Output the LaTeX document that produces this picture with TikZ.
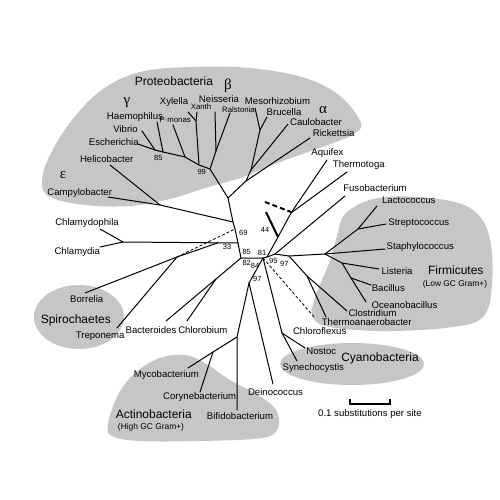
\documentclass[tikz,border=0pt]{standalone}
\usepackage{fontspec}
\setmainfont{Liberation Sans}
\newfontfamily\grk{Liberation Serif}
\definecolor{blobgray}{RGB}{198,198,198}
\begin{document}
\begin{tikzpicture}[x=1pt,y=-1pt,
  br/.style={line width=1pt, line cap=round},
  thk/.style={line width=2pt},
  dsh/.style={line width=0.8pt, dash pattern=on 3pt off 2pt},
  dshthk/.style={line width=2pt, dash pattern=on 5pt off 3pt},
  sp/.style={inner sep=0pt, font=\fontsize{9.6}{11}\selectfont},
  sm/.style={inner sep=0pt, font=\fontsize{7.8}{9}\selectfont},
  bs/.style={inner sep=0pt, font=\fontsize{7.5}{9}\selectfont},
  grp/.style={inner sep=0pt, font=\fontsize{12}{14}\selectfont},
  sublbl/.style={inner sep=0pt, font=\fontsize{8.4}{10}\selectfont},
  gk/.style={inner sep=0pt, font=\grk\fontsize{15}{17}\selectfont}]
\useasboundingbox (0,0) rectangle (500,500);
\fill[white] (0,0) rectangle (500,500);

% ---- shaded groups ----
\fill[blobgray] plot[smooth cycle, tension=0.6] coordinates {(42,182) (50,155) (72,120) (103,89) (140,72) (190,67) (250,68) (305,78) (340,96) (361,123) (352,135) (325,146) (280,162) (240,178) (205,188) (170,199) (130,206) (85,205) (50,197)};
\fill[blobgray] plot[smooth cycle, tension=0.6] coordinates {(346,213) (378,198) (430,198) (470,208) (489,235) (492,285) (482,318) (445,328) (380,331) (330,327) (313,318) (314,300) (322,280) (331,258) (337,236)};
\fill[blobgray] (79,317) ellipse [x radius=45, y radius=32];
\fill[blobgray] (352,364) ellipse [x radius=72, y radius=21];
\fill[blobgray] plot[smooth cycle, tension=0.6] coordinates {(108,424) (118,395) (135,373) (160,358) (185,355) (205,363) (230,380) (258,395) (276,410) (278,428) (262,438) (200,441) (140,441) (112,436)};

% ---- internal nodes and branch ends ----
\coordinate (P) at (228,198);
\coordinate (N99) at (210,169);
\coordinate (B) at (216,151);
\coordinate (G0) at (199,165);
\coordinate (X) at (196,121);
\coordinate (G1) at (185,157);
\coordinate (G2) at (163,152);
\coordinate (G3) at (155,150);
\coordinate (lEsch) at (138,144);
\coordinate (lVib) at (142,131);
\coordinate (lHae) at (157,122);
\coordinate (lPmo) at (173,125);
\coordinate (lXyl) at (188,112);
\coordinate (lXan) at (197,112);
\coordinate (lNei) at (215,112);
\coordinate (lRal) at (230,113);
\coordinate (A1) at (246,181);
\coordinate (A2) at (251,170);
\coordinate (A3) at (260,130);
\coordinate (lRic) at (310,138);
\coordinate (lCau) at (288,124);
\coordinate (lMes) at (255,108);
\coordinate (lBru) at (267,117);
\coordinate (E) at (160,205);
\coordinate (lHel) at (110,165);
\coordinate (lCam) at (108,197);
\coordinate (C1) at (233,222);
\coordinate (C69) at (235,229);
\coordinate (C33) at (238,243);
\coordinate (N82) at (241,258);
\coordinate (CH) at (123,242);
\coordinate (lCph) at (100,229);
\coordinate (lCla) at (100,247);
\coordinate (CHj) at (218,242.8);
\coordinate (SP) at (177,257);
\coordinate (lBor) at (85,293);
\coordinate (lTre) at (117,328);
\coordinate (BC) at (216,279);
\coordinate (lBac) at (166,321);
\coordinate (lChb) at (187,321);
\coordinate (N84) at (263,258);
\coordinate (N81) at (267,257);
\coordinate (N95) at (275,254);
\coordinate (N97) at (289,256);
\coordinate (N44) at (278,237);
\coordinate (AT) at (291,213);
\coordinate (thkEnd) at (266,212);
\coordinate (dsA) at (265,202);
\coordinate (dsB) at (291,212);
\coordinate (lAqu) at (327,160);
\coordinate (lThe) at (347,172);
\coordinate (lFus) at (345,196);
\coordinate (F0) at (325,254);
\coordinate (F1) at (358,229);
\coordinate (F2) at (342,263);
\coordinate (F3) at (351,278);
\coordinate (lLac) at (377,206);
\coordinate (lStr) at (386,224);
\coordinate (lSta) at (385,249);
\coordinate (lLis) at (379,269);
\coordinate (lBcl) at (371,285);
\coordinate (lOce) at (366,302);
\coordinate (Cc) at (307,276);
\coordinate (lClo) at (347,311);
\coordinate (lTan) at (326,317);
\coordinate (lChf) at (315,318);
\coordinate (N97L) at (249,283);
\coordinate (A0) at (237,337);
\coordinate (MC) at (213,352);
\coordinate (lMyc) at (188,368);
\coordinate (lCor) at (200,392);
\coordinate (lBif) at (237,410);
\coordinate (lDei) at (273,384);
\coordinate (CY) at (282,333);
\coordinate (lNos) at (305,348);
\coordinate (lSyn) at (297,361);

% ---- branches ----
\draw[br] (lEsch) -- (G3) -- (G2) -- (G1) -- (G0) -- (N99) -- (P);
\draw[br] (lVib) -- (G3);
\draw[br] (lHae) -- (G2);
\draw[br] (lPmo) -- (G1);
\draw[br] (G0) -- (X) -- (lXan);
\draw[br] (lXyl) -- (X);
\draw[br] (lRal) -- (B) -- (N99);
\draw[br] (lNei) -- (B);
\draw[br] (P) -- (A1) -- (A2) -- (A3) -- (lMes);
\draw[br] (A3) -- (lBru);
\draw[br] (A2) -- (lCau);
\draw[br] (A1) -- (lRic);
\draw[br] (P) -- (C1) -- (C69) -- (C33) -- (N82);
\draw[br] (lHel) -- (E) -- (C1);
\draw[br] (lCam) -- (E);
\draw[br] (lCph) -- (CH) -- (C33);
\draw[br] (lCla) -- (CH);
\draw[br] (lBor) -- (SP) -- (CHj);
\draw[br] (lTre) -- (SP);
\draw[dsh] (SP) -- (C69);
\draw[br] (N82) -- (BC) -- (lBac);
\draw[br] (BC) -- (lChb);
\draw[br] (N82) -- (N84) -- (N81) -- (N95) -- (N97) -- (F0);
\draw[br] (N81) -- (N44) -- (AT) -- (lAqu);
\draw[br] (AT) -- (lThe);
\draw[thk] (N44) -- (thkEnd);
\draw[dshthk] (dsA) -- (dsB);
\draw[br] (N95) -- (lFus);
\draw[br] (F0) -- (lSta);
\draw[br] (F0) -- (F1) -- (lLac);
\draw[br] (F1) -- (lStr);
\draw[br] (F0) -- (F2) -- (lLis);
\draw[br] (F2) -- (F3) -- (lOce);
\draw[br] (F3) -- (lBcl);
\draw[br] (N97) -- (Cc) -- (lClo);
\draw[br] (Cc) -- (lTan);
\draw[dsh] (N84) -- (lChf);
\draw[br] (N84) -- (N97L) -- (lDei);
\draw[br] (N97L) -- (A0) -- (lBif);
\draw[br] (A0) -- (MC) -- (lMyc);
\draw[br] (MC) -- (lCor);
\draw[br] (N84) -- (CY) -- (lNos);
\draw[br] (CY) -- (lSyn);

% ---- group labels ----
\node[grp] (tProteo) at (174,81) {Proteobacteria};
\node[gk] (tBeta) at (228,86) {β};
\node[gk] (tGamma) at (127,103) {γ};
\node[gk] (tAlpha) at (323,110) {α};
\node[gk] (tEps) at (63,175) {ε};
\node[grp] (tFirm) at (455.8,270.7) {Firmicutes};
\node[sublbl] (tFirm2) at (455,284.5) {(Low GC Gram+)};
\node[grp] (tSpiro) at (75.8,320) {Spirochaetes};
\node[grp] (tActino) at (153.8,414) {Actinobacteria};
\node[sublbl] (tActino2) at (151,427) {(High GC Gram+)};
\node[grp] (tCyano) at (380,358.3) {Cyanobacteria};

% ---- taxa ----
\node[sp] (tXyl) at (174,102) {Xylella};
\node[sm] (tXan) at (201,107) {Xanth};
\node[sp] (tNei) at (219,99.5) {Neisseria};
\node[sm] (tRal) at (238.5,110) {Ralstonia};
\node[sp] (tMes) at (277.5,101) {Mesorhizobium};
\node[sp] (tBru) at (284,111.7) {Brucella};
\node[sp] (tCau) at (316,121.7) {Caulobacter};
\node[sp] (tRic) at (333.7,132.7) {Rickettsia};
\node[sp] (tHae) at (135,116.7) {Haemophilus};
\node[sm, anchor=east] (tPmo) at (191,120) {P·monas};
\node[sp] (tVib) at (125.5,129) {Vibrio};
\node[sp] (tEsc) at (113.8,141.7) {Escherichia};
\node[sp] (tHel) at (106.7,159.3) {Helicobacter};
\node[sp] (tCam) at (79.7,192.7) {Campylobacter};
\node[sp] (tAqu) at (327.5,152.7) {Aquifex};
\node[sp] (tThe) at (358.8,165) {Thermotoga};
\node[sp] (tFus) at (375,188.3) {Fusobacterium};
\node[sp] (tLac) at (408.8,200.7) {Lactococcus};
\node[sp] (tStr) at (418.8,222.7) {Streptococcus};
\node[sp] (tSta) at (420.3,247.3) {Staphylococcus};
\node[sp] (tLis) at (397,270.7) {Listeria};
\node[sp] (tBcl) at (388.3,288.3) {Bacillus};
\node[sp] (tOce) at (404.5,305) {Oceanobacillus};
\node[sp] (tClo) at (372.5,313.3) {Clostridium};
\node[sp] (tTan) at (366.7,322.3) {Thermoanaerobacter};
\node[sp] (tChf) at (319.7,330.7) {Chloroflexus};
\node[sp] (tCph) at (87,223.3) {Chlamydophila};
\node[sp] (tCla) at (77.2,251.7) {Chlamydia};
\node[sp] (tBor) at (86.7,299) {Borrelia};
\node[sp] (tTre) at (100.2,336) {Treponema};
\node[sp] (tBac) at (151,330) {Bacteroides};
\node[sp] (tChb) at (202.8,330) {Chlorobium};
\node[sp] (tMyc) at (166.3,375) {Mycobacterium};
\node[sp] (tCor) at (199.7,397.3) {Corynebacterium};
\node[sp] (tDei) at (275.5,391.7) {Deinococcus};
\node[sp] (tBif) at (240,416) {Bifidobacterium};
\node[sp] (tNos) at (321.3,351.7) {Nostoc};
\node[sp] (tSyn) at (313.3,368.3) {Synechocystis};

% ---- support values ----
\node[bs] (b85a) at (158.3,158.3) {85};
\node[bs] (b99) at (201.7,172.3) {99};
\node[bs] (b69) at (243.3,233.3) {69};
\node[bs] (b44) at (265,230) {44};
\node[bs] (b33) at (227,247) {33};
\node[bs] (b85b) at (246.7,251.7) {85};
\node[bs] (b81) at (262,252.5) {81};
\node[bs] (b82) at (246.7,263.3) {82};
\node[bs] (b84) at (255,265.5) {84};
\node[bs] (b95) at (273.3,261) {95};
\node[bs] (b97a) at (284.3,264) {97};
\node[bs] (b97b) at (257.3,279.3) {97};

% ---- scale bar ----
\coordinate (sb1) at (350,399);
\coordinate (sb2) at (350,404);
\coordinate (sb3) at (390,404);
\coordinate (sb4) at (390,399);
\draw[line width=1.1pt] (sb1) -- (sb2) -- (sb3) -- (sb4);
\node[sp] (tScale) at (370,414.5) {0.1 substitutions per site};
\end{tikzpicture}
\end{document}
